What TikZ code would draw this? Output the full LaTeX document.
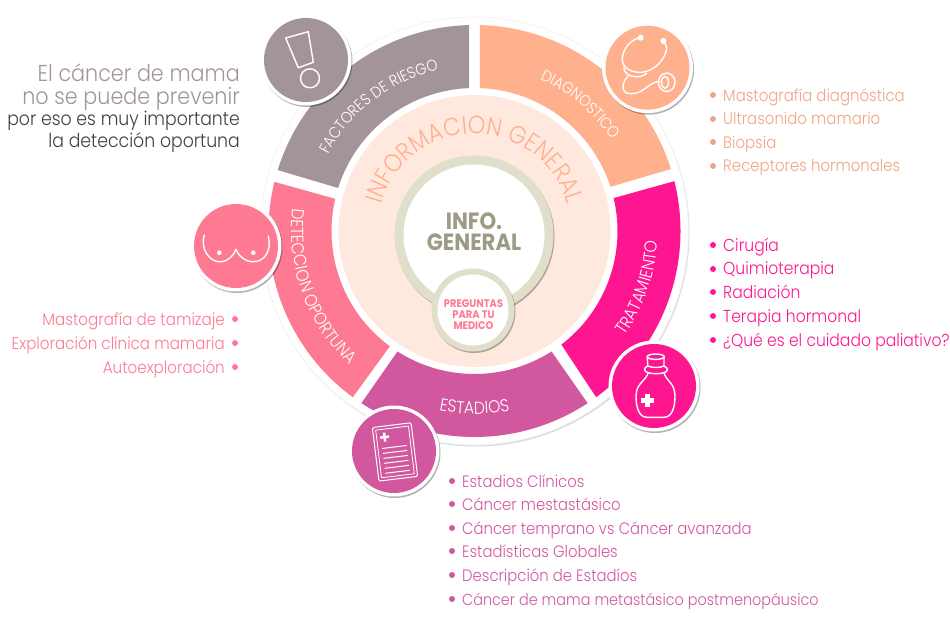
\documentclass[tikz,border=0pt]{standalone}
\usepackage{fontspec}
\setmainfont{Poppins}[UprightFont=* Light,BoldFont=* Bold,FakeStretch=0.9]
\usepackage{xcolor}
\usetikzlibrary{decorations.text,shadows}
\definecolor{riesgoC}{HTML}{A3949B}
\definecolor{diagC}{HTML}{FFB18E}
\definecolor{diagT}{HTML}{EFA583}
\definecolor{tratC}{HTML}{FE1690}
\definecolor{estC}{HTML}{D1589F}
\definecolor{detC}{HTML}{FE7A92}
\definecolor{peachC}{HTML}{FFE9DF}
\definecolor{ringC}{HTML}{E0DFCB}
\definecolor{infoC}{HTML}{9D9B85}
\newcommand{\px}[1]{\fontsize{#1}{#1}\selectfont}
\newcommand{\bandseg}[5]{\fill [#1] (#2:206) arc[start angle=#2,end angle=#3,radius=206] -- (#5:143) arc[start angle=#5,end angle=#4,radius=143] -- cycle;}
\tikzset{
  softshadow/.style={drop shadow={shadow xshift=1pt,shadow yshift=-1.5pt,opacity=.3,fill=black}},
  wheelshadow/.style={drop shadow={shadow xshift=1pt,shadow yshift=-1.5pt,opacity=.14,fill=black}},
  iconring/.style={fill=white,softshadow},
  iconline/.style={draw=white,line width=1.4pt,line cap=round,line join=round},
  bandlabel/.style={decorate,decoration={text along path,text align=center,text={|\px{15.8}\color{white}|#1}}},
  bandlow/.style={decorate,decoration={text along path,text align=center,text={|\px{17.4}\color{white}|#1}}},
  bigarc/.style={decorate,decoration={text along path,text align=center,text={|\px{25}\color{diagC}|#1}}},
  listright/.style={anchor=base west,inner sep=0pt,font=\px{16.6}},
  listleft/.style={anchor=base east,inner sep=0pt,font=\px{16.8}},
  headline/.style={anchor=base east,inner sep=0pt,font=\px{23},text=riesgoC},
  subline/.style={anchor=base east,inner sep=0pt,font=\px{19.2},text=black!75},
}
\begin{document}
\begin{tikzpicture}[x=1pt,y=-1pt]
\useasboundingbox (0,0) rectangle (950,620);

% wheel
\begin{scope}[shift={(474.5,231)},y=1pt]
\fill [white,draw=black!6,line width=.6pt,wheelshadow] (0,0) circle[radius=214];
\bandseg{riesgoC}{91.5}{162.8}{92.2}{162.5}
\bandseg{detC}{166.2}{233.8}{167}{233.7}
\bandseg{estC}{236.7}{303.3}{237.4}{302.6}
\bandseg{tratC}{306.2}{374}{307.4}{373.3}
\bandseg{diagC}{17.5}{88.5}{18}{87.8}
\fill [peachC] (0,0) circle[radius=136];
\path [bandlabel={FACTORES DE RIESGO}] (165:165) arc[start angle=165,end angle=90,radius=165];
\path [bandlabel={DIAGNOSTICO}] (88:165) arc[start angle=88,end angle=12,radius=165];
\path [bandlow={TRATAMIENTO}] (-52:183) arc[start angle=-52,end angle=14,radius=183];
\path [bandlow={ESTADIOS}] (237:183) arc[start angle=237,end angle=303,radius=183];
\path [bandlow={DETECCION OPORTUNA}] (165:183) arc[start angle=165,end angle=235,radius=183];
\path [bigarc={INFORMACION GENERAL}] (180:97) arc[start angle=180,end angle=0,radius=97];
\end{scope}

% centre
\fill [ringC,softshadow] (474,235) circle[radius=79.5];
\fill [white] (474,235) circle[radius=70.5];
\node (infoa) at (474,221) {\px{23.5}\bfseries\color{infoC}INFO.};
\node (infob) at (474,242) {\px{23.5}\bfseries\color{infoC}GENERAL};
\fill [ringC,softshadow] (473,310) circle[radius=41.5];
\fill [white] (473,310) circle[radius=35.5];
\node (pregu) at (473.5,304) {\px{11}\bfseries\color{detC}PREGUNTAS};
\node (pregb) at (473.5,315) {\px{11}\bfseries\color{detC}PARA TU};
\node (pregc) at (473.5,326) {\px{11}\bfseries\color{detC}MEDICO};

% icon discs
\fill [iconring] (306,60) circle[radius=45.5];
\fill [riesgoC] (306,60) circle[radius=42];
\fill [iconring] (647.5,67.7) circle[radius=45.5];
\fill [diagC] (647.5,67.7) circle[radius=42];
\fill [iconring] (654,386) circle[radius=45.5];
\fill [tratC] (654,386) circle[radius=42];
\fill [iconring] (394,451) circle[radius=45.5];
\fill [estC] (394,451) circle[radius=42];
\fill [iconring] (236,246) circle[radius=45.5];
\fill [detC] (236,246) circle[radius=42];

% exclamation mark
\draw [iconline] (285.7,38) -- (308.3,31.7) -- (313.3,62.3) -- (298.3,67.7) -- cycle;
\draw [iconline] (310,78.3) circle[radius=9.5];

% stethoscope
\fill [white] (640.7,37.7) circle[radius=3];
\fill [white] (663.3,41) circle[radius=3];
\draw [iconline] (640.7,37.7) .. controls (630,39) and (622,50) .. (622.3,60) .. controls (622.5,68) and (632,73) .. (641.7,72.3) .. controls (655,71) and (664,60) .. (666.5,50) .. controls (667,46) and (665,43) .. (663.3,41);
\draw [iconline] (624,66) .. controls (623,74) and (630,77) .. (638.3,76.7) .. controls (642,76.5) and (645,75) .. (646.7,73.3);
\draw [iconline] (627.7,76.7) .. controls (624,80) and (622.5,85) .. (623.3,89) .. controls (624,94) and (630,94) .. (635,93.3) .. controls (645,92) and (650,81) .. (660,81.7);
\draw [iconline] (666.7,82.3) ellipse[x radius=8.3,y radius=9.2];
\draw [iconline] (665,82.3) ellipse[x radius=3.5,y radius=6];

% bottle
\draw [iconline] (655.7,356.7) ellipse[x radius=8.5,y radius=2.7];
\draw [iconline] (647.3,356.7) -- (647.7,366) .. controls (643,368) and (644,372) .. (648.3,372.7) .. controls (646,381) and (636,383) .. (636,396) .. controls (636,405) and (638,417.3) .. (647,417.3) -- (664,417.3) .. controls (673,417.3) and (675,405) .. (675,396) .. controls (675,383) and (666,381) .. (664,372.7) .. controls (668,372) and (669,368) .. (664,366) -- (664,356.7);
\draw [iconline] (647.7,366) .. controls (652,368) and (660,368) .. (664,366);
\draw [iconline] (648.3,372.7) .. controls (652,374) and (660,374) .. (664,372.7);
\draw [white,line width=4.5pt] (641,400.7) -- (654.4,400.7);
\draw [white,line width=4.5pt] (647.7,394) -- (647.7,407.4);

% chart
\begin{scope}[rotate around={7:(394.5,452)}]
\draw [iconline,line width=1pt,rounded corners=1.5pt] (375.5,425) rectangle (414.5,479);
\draw [iconline,line width=.8pt] (378.5,428) rectangle (411.5,476);
\draw [white,line width=2.5pt] (382,436) -- (391,436);
\draw [white,line width=2.5pt] (386.5,431.5) -- (386.5,440.5);
\draw [iconline,line width=1pt] (383,447) -- (407,447);
\draw [iconline,line width=1pt] (383,452) -- (407,452);
\draw [iconline,line width=1pt] (383,457) -- (407,457);
\draw [iconline,line width=1pt] (383,462) -- (407,462);
\draw [iconline,line width=1pt] (383,467) -- (407,467);
\draw [iconline,line width=1pt] (383,472) -- (407,472);
\end{scope}

% breast
\draw [iconline] (204.3,235) .. controls (200,250) and (210,262) .. (220,261.7) .. controls (228,262) and (234,255) .. (236,249.3) .. controls (238,255) and (245,262) .. (253,261.7) .. controls (265,262) and (272,250) .. (268.3,236);
\fill [white] (219.3,252.7) circle[radius=2.3];
\fill [white] (253.3,252.7) circle[radius=2.3];

% top left
\node (heada) [headline] at (240,82) {El cáncer de mama};
\node (headb) [headline] at (240,105) {no se puede prevenir};
\node (suba) [subline] at (240,125.5) {por eso es muy importante};
\node (subb) [subline] at (240,147.5) {la detección oportuna};

% diagnostico
\fill [diagT] (713,95) circle[radius=3];
\node (diaga) [listright,text=diagT] at (723,101.5) {Mastografía diagnóstica};
\fill [diagT] (713,119) circle[radius=3];
\node (diagb) [listright,text=diagT] at (723,125) {Ultrasonido mamario};
\fill [diagT] (713,142) circle[radius=3];
\node (diagc) [listright,text=diagT] at (723,148.5) {Biopsia};
\fill [diagT] (713,166) circle[radius=3];
\node (diagd) [listright,text=diagT] at (723,172) {Receptores hormonales};

% tratamiento
\fill [tratC] (713,245) circle[radius=3];
\node (trata) [listright,text=tratC,font=\px{17.3}] at (723,251.5) {Cirugía};
\fill [tratC] (713,269) circle[radius=3];
\node (tratb) [listright,text=tratC,font=\px{17.3}] at (723,275) {Quimioterapia};
\fill [tratC] (713,292) circle[radius=3];
\node (tratc) [listright,text=tratC,font=\px{17.3}] at (723,298.5) {Radiación};
\fill [tratC] (713,316) circle[radius=3];
\node (tratd) [listright,text=tratC,font=\px{17.3}] at (723,322) {Terapia hormonal};
\fill [tratC] (713,340) circle[radius=3];
\node (trate) [listright,text=tratC,font=\px{17.3}] at (723,346) {¿Qué es el cuidado paliativo?};

% deteccion
\fill [detC] (235,319) circle[radius=3];
\node (deta) [listleft,text=detC] at (225,325) {Mastografía de tamizaje};
\fill [detC] (235,343) circle[radius=3];
\node (detb) [listleft,text=detC] at (225,349) {Exploración clínica mamaria};
\fill [detC] (235,367) circle[radius=3];
\node (detc) [listleft,text=detC] at (225,373) {Autoexploración};

% estadios
\fill [estC] (452,481) circle[radius=3];
\node (esta) [listright,text=estC,font=\px{16.5}] at (462,487) {Estadios Clínicos};
\fill [estC] (452,504) circle[radius=3];
\node (estb) [listright,text=estC,font=\px{16.5}] at (462,510.5) {Cáncer mestastásico};
\fill [estC] (452,528) circle[radius=3];
\node (estc) [listright,text=estC,font=\px{16.5}] at (462,534) {Cáncer temprano vs Cáncer avanzada};
\fill [estC] (452,551) circle[radius=3];
\node (estd) [listright,text=estC,font=\px{16.5}] at (462,557.5) {Estadísticas Globales};
\fill [estC] (452,575) circle[radius=3];
\node (este) [listright,text=estC,font=\px{16.5}] at (462,581) {Descripción de Estadíos};
\fill [estC] (452,599) circle[radius=3];
\node (estf) [listright,text=estC,font=\px{16}] at (462,605) {Cáncer de mama metastásico postmenopáusico};
\end{tikzpicture}
\end{document}
